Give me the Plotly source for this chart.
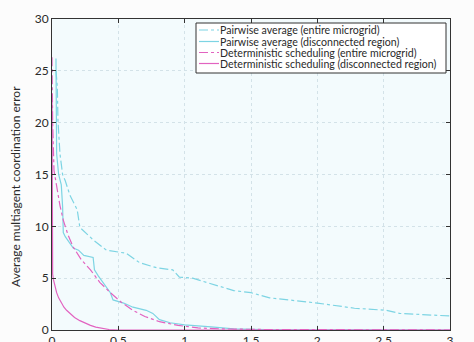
import plotly.graph_objects as go

# Pairwise average (entire microgrid) - dash-dot cyan
pa_ent_x = [0.03, 0.04, 0.045, 0.06, 0.08, 0.1, 0.135, 0.19, 0.21, 0.31, 0.41, 0.56, 0.66, 0.79, 0.91, 0.96, 1.06, 1.37, 1.5, 1.64, 2.0, 2.28, 2.52, 2.62, 3.0]
pa_ent_y = [25.0, 23.5, 20.2, 17.0, 15.0, 14.4, 13.0, 11.6, 9.9, 8.7, 7.7, 7.4, 6.5, 6.0, 5.8, 5.1, 5.0, 3.8, 3.6, 3.1, 2.6, 2.1, 1.9, 1.6, 1.35]

# Pairwise average (disconnected region) - solid cyan
pa_dis_x = [0.03, 0.03, 0.035, 0.05, 0.06, 0.07, 0.08, 0.085, 0.1, 0.13, 0.16, 0.2, 0.24, 0.31, 0.32, 0.35, 0.39, 0.44, 0.46, 0.54, 0.61, 0.71, 0.76, 0.81, 0.89, 1.0, 1.2, 1.37, 1.6, 3.0]
pa_dis_y = [26.2, 17.5, 17.0, 15.0, 14.5, 14.0, 11.9, 9.4, 9.0, 8.4, 7.9, 7.7, 7.2, 7.0, 5.8, 5.2, 4.5, 3.6, 2.9, 2.6, 2.2, 1.9, 1.6, 1.0, 0.7, 0.5, 0.3, 0.1, 0.03, 0.0]

# Deterministic scheduling (entire microgrid) - dash-dot magenta
ds_ent_x = [0.0, 0.005, 0.015, 0.035, 0.06, 0.085, 0.12, 0.16, 0.22, 0.29, 0.36, 0.44, 0.52, 0.61, 0.7, 0.81, 0.95, 1.1, 1.3, 1.6, 2.0, 3.0]
ds_ent_y = [26.3, 20.0, 15.4, 13.8, 12.0, 10.6, 9.2, 8.0, 6.8, 5.8, 4.6, 3.6, 2.7, 1.9, 1.3, 0.8, 0.45, 0.2, 0.1, 0.05, 0.02, 0.0]

# Deterministic scheduling (disconnected region) - solid magenta
ds_dis_x = [0.0, 0.0, 0.005, 0.01, 0.02, 0.035, 0.05, 0.07, 0.09, 0.11, 0.14, 0.17, 0.21, 0.25, 0.29, 0.33, 0.38, 0.43, 0.5, 1.0, 3.0]
ds_dis_y = [22.4, 6.0, 5.4, 4.9, 4.3, 3.6, 3.1, 2.6, 2.2, 1.9, 1.5, 1.2, 0.9, 0.65, 0.45, 0.28, 0.14, 0.05, 0.0, 0.0, 0.0]

names = [
    "Pairwise average (entire microgrid)",
    "Pairwise average (disconnected region)",
    "Deterministic scheduling (entire microgrid)",
    "Deterministic scheduling (disconnected region)",
]

cyan = "#7dd4e3"
magenta = "#e263c0"
colors = [cyan, cyan, magenta, magenta]
dashes = ["dashdot", "solid", "dashdot", "solid"]

fig = go.Figure()
series = [(pa_ent_x, pa_ent_y), (pa_dis_x, pa_dis_y), (ds_ent_x, ds_ent_y), (ds_dis_x, ds_dis_y)]
for (xs, ys), nm, c, d in zip(series, names, colors, dashes):
    fig.add_trace(go.Scatter(x=xs, y=ys, mode="lines", name=nm, showlegend=False,
                             line=dict(color=c, width=1.2, dash=d)))

FONT = "Lato"
TXT = "#2a2a2a"
axis_common = dict(
    showline=True, linecolor="#333333", linewidth=1, mirror="allticks",
    ticks="inside", ticklen=4, tickcolor="#333333",
    showgrid=True, gridcolor="#d3e2e8", griddash="dot", gridwidth=1,
    zeroline=False, tickfont=dict(family=FONT, size=12, color=TXT),
)

# plot area in pixels: x 52..450, y 19..330
L, R, T, B = 52, 450, 19, 330
W, H = R - L, B - T
def px(x):
    return (x - L) / W
def py(y):
    return (B - y) / H

shapes = [dict(type="rect", xref="paper", yref="paper",
               x0=px(196), x1=px(446), y0=py(73), y1=py(23),
               line=dict(color="#333333", width=1), fillcolor="#ffffff", layer="above")]
annotations = []
row_y = [30, 41.5, 52.5, 63.5]
for ry, nm, c, d in zip(row_y, names, colors, dashes):
    shapes.append(dict(type="line", xref="paper", yref="paper",
                       x0=px(199), x1=px(219), y0=py(ry), y1=py(ry),
                       line=dict(color=c, width=1.2, dash=d), layer="above"))
    annotations.append(dict(text=nm, xref="paper", yref="paper", x=px(219), y=py(ry),
                            xanchor="left", yanchor="middle", showarrow=False,
                            borderpad=0,
                            font=dict(family=FONT, size=10.6, color=TXT)))

annotations.append(dict(text="Average multiagent coordination error", xref="paper", yref="paper",
                        x=px(16), y=py(187), xanchor="center", yanchor="middle",
                        textangle=-90, showarrow=False,
                        font=dict(family=FONT, size=12, color=TXT)))

fig.update_layout(
    width=474, height=342,
    margin=dict(l=L, r=474 - R, t=T, b=342 - B, autoexpand=False),
    paper_bgcolor="#fcfcfc",
    plot_bgcolor="#f3fbfd",
    font=dict(family=FONT, size=12, color=TXT),
    xaxis=dict(range=[0, 3], tickvals=[0, 0.5, 1, 1.5, 2, 2.5, 3],
               ticktext=["0", "0.5", "1", "1.5", "2", "2.5", "3"], **axis_common),
    yaxis=dict(range=[0, 30], tickvals=[0, 5, 10, 15, 20, 25, 30], **axis_common),
    shapes=shapes,
    annotations=annotations,
    showlegend=False,
)

fig.write_html("out.html")
